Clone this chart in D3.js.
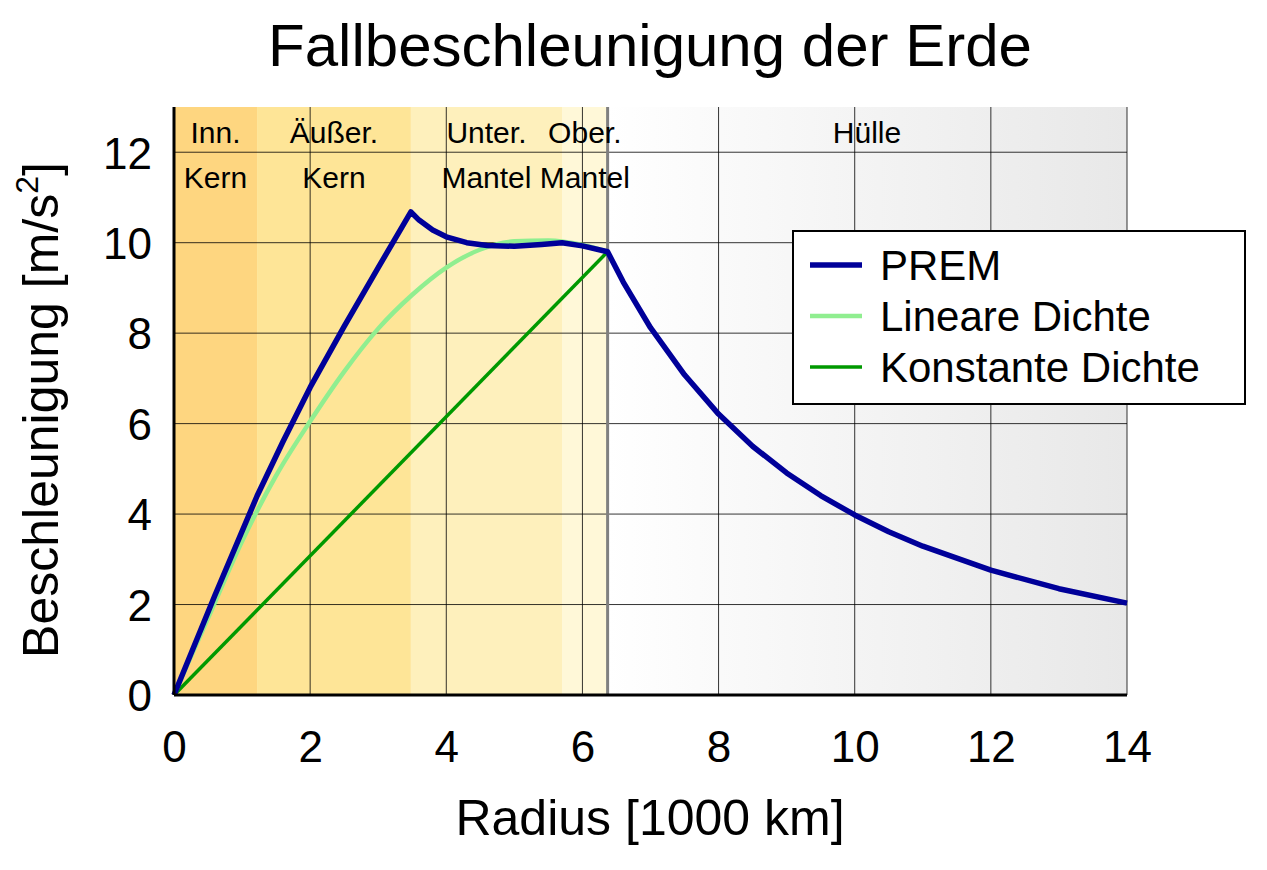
<!DOCTYPE html>
<html><head><meta charset="utf-8">
<script src="https://cdn.jsdelivr.net/npm/d3@7"></script>
<style>body{margin:0;background:#fff}text{font-family:"Liberation Sans",Arial,sans-serif}</style>
</head><body>
<svg id="c" width="1267" height="870"></svg>
<script>
// Schichten der Erde
const layers = [
  {name: ["Inn.", "Kern"], from: 0, to: 1.22, color: "#fed680"},
  {name: ["Äußer.", "Kern"], from: 1.22, to: 3.48, color: "#fee597"},
  {name: ["Unter.", "Mantel"], from: 3.48, to: 5.70, color: "#fef0bc"},
  {name: ["Ober.", "Mantel"], from: 5.70, to: 6.37, color: "#fff8d8"}
];
const huelle = {name: "Hülle", from: 6.37, to: 14};

const premR = [0, 0.6, 1.22, 1.6, 2, 2.5, 3, 3.48, 3.6, 3.8, 4, 4.3, 4.6, 5, 5.4, 5.7, 6, 6.37, 6.6, 7, 7.5, 8, 8.5, 9, 9.5, 10, 10.5, 11, 12, 13, 14];
const premG = [0, 2.2, 4.4, 5.6, 6.8, 8.15, 9.45, 10.68, 10.5, 10.28, 10.13, 10.0, 9.94, 9.92, 9.96, 10.0, 9.93, 9.8, 9.13, 8.12, 7.08, 6.21, 5.50, 4.91, 4.41, 3.98, 3.61, 3.29, 2.76, 2.35, 2.03];
const linR = [0, 0.5, 1, 1.5, 2, 2.5, 3, 3.5, 4, 4.5, 5, 5.5, 6, 6.37];
const linG = [0, 1.7, 3.4, 4.85, 6.05, 7.15, 8.1, 8.85, 9.45, 9.85, 10.03, 10.05, 9.95, 9.8];
const konR = [0, 6.37];
const konG = [0, 9.8];
const xTicks = [0, 2, 4, 6, 8, 10, 12, 14];
const yTicks = [0, 2, 4, 6, 8, 10, 12];

const svg = d3.select("#c");
const x = d3.scaleLinear().domain([0, 14]).range([174, 1127]);
const y = d3.scaleLinear().domain([0, 13]).range([695, 107]);

const defs = svg.append("defs");
const grad = defs.append("linearGradient").attr("id", "hg");
grad.append("stop").attr("offset", 0).attr("stop-color", "#ffffff");
grad.append("stop").attr("offset", 1).attr("stop-color", "#e8e8e8");

svg.append("rect").attr("x", x(huelle.from)).attr("y", y(13))
  .attr("width", x(huelle.to) - x(huelle.from)).attr("height", y(0) - y(13))
  .attr("fill", "url(#hg)");
svg.selectAll(".layer").data(layers).enter().append("rect")
  .attr("x", d => x(d.from)).attr("y", y(13))
  .attr("width", d => x(d.to) - x(d.from)).attr("height", y(0) - y(13))
  .attr("fill", d => d.color);

// Gitter
svg.append("g").selectAll("line").data(xTicks.slice(1)).enter().append("line")
  .attr("x1", d => x(d)).attr("x2", d => x(d)).attr("y1", y(13)).attr("y2", y(0))
  .attr("stroke", "#000").attr("stroke-width", 0.8);
svg.append("g").selectAll("line").data(yTicks.slice(1)).enter().append("line")
  .attr("x1", x(0)).attr("x2", x(14)).attr("y1", d => y(d)).attr("y2", d => y(d))
  .attr("stroke", "#000").attr("stroke-width", 0.8);

svg.append("line").attr("x1", x(6.37)).attr("x2", x(6.37)).attr("y1", y(13)).attr("y2", y(0))
  .attr("stroke", "#808080").attr("stroke-width", 3);

// Beschriftung der Schichten
layers.forEach(l => {
  const cx = (x(l.from) + x(l.to)) / 2;
  l.name.forEach((t, i) => svg.append("text").attr("x", cx).attr("y", 143 + i * 45)
    .attr("text-anchor", "middle").attr("font-size", 30).text(t));
});
svg.append("text").attr("x", 867).attr("y", 143).attr("text-anchor", "middle")
  .attr("font-size", 30).text(huelle.name);

// Kurven
const line = d3.line().x(d => x(d[0])).y(d => y(d[1]));
svg.append("path").datum(d3.zip(konR, konG)).attr("d", line)
  .attr("fill", "none").attr("stroke", "#009900").attr("stroke-width", 3.5);
svg.append("path").datum(d3.zip(linR, linG)).attr("d", line.curve(d3.curveMonotoneX))
  .attr("fill", "none").attr("stroke", "#90ee90").attr("stroke-width", 4.5);
svg.append("path").datum(d3.zip(premR, premG)).attr("d", line.curve(d3.curveLinear))
  .attr("fill", "none").attr("stroke", "#000099").attr("stroke-width", 5.5)
  .attr("stroke-linejoin", "round");

// Achsen
const xa = svg.append("g").attr("transform", `translate(0,${y(0)})`)
  .call(d3.axisBottom(x).tickValues(xTicks).tickSize(0).tickPadding(36));
const ya = svg.append("g").attr("transform", `translate(${x(0)},0)`)
  .call(d3.axisLeft(y).tickValues(yTicks).tickSize(0).tickPadding(22));
[xa, ya].forEach(a => {
  a.attr("font-size", 44);
  a.select(".domain").remove();
  a.selectAll("text").attr("font-size", 44).attr("fill", "#000")
    .attr("font-family", "Liberation Sans, Arial, sans-serif");
});
ya.selectAll("text").attr("dy", "0.36em");
svg.append("line").attr("x1", x(0)).attr("x2", x(14)).attr("y1", y(0)).attr("y2", y(0))
  .attr("stroke", "#000").attr("stroke-width", 3);
svg.append("line").attr("x1", x(0)).attr("x2", x(0)).attr("y1", y(13)).attr("y2", y(0))
  .attr("stroke", "#000").attr("stroke-width", 3);

svg.append("text").attr("x", 650).attr("y", 66).attr("text-anchor", "middle")
  .attr("font-size", 60).text("Fallbeschleunigung der Erde");
svg.append("text").attr("x", 650).attr("y", 835).attr("text-anchor", "middle")
  .attr("font-size", 50).text("Radius [1000 km]");
const yl = svg.append("text").attr("transform", "translate(58,410) rotate(-90)")
  .attr("text-anchor", "middle").attr("font-size", 50);
yl.append("tspan").text("Beschleunigung [m/s");
yl.append("tspan").attr("font-size", 32).attr("dy", -20).text("2");
yl.append("tspan").attr("dy", 20).text("]");

// Legende
const legend = [
  {label: "PREM", color: "#000099", w: 5.5},
  {label: "Lineare Dichte", color: "#90ee90", w: 4.5},
  {label: "Konstante Dichte", color: "#009900", w: 3.5}
];
svg.append("rect").attr("x", 793).attr("y", 231).attr("width", 452).attr("height", 173)
  .attr("fill", "#fff").attr("stroke", "#000").attr("stroke-width", 2);
legend.forEach((l, i) => {
  const ly = 265 + i * 51;
  svg.append("line").attr("x1", 810).attr("x2", 862).attr("y1", ly).attr("y2", ly)
    .attr("stroke", l.color).attr("stroke-width", l.w);
  svg.append("text").attr("x", 880).attr("y", ly + 15).attr("font-size", 42).text(l.label);
});
</script>
</body></html>
